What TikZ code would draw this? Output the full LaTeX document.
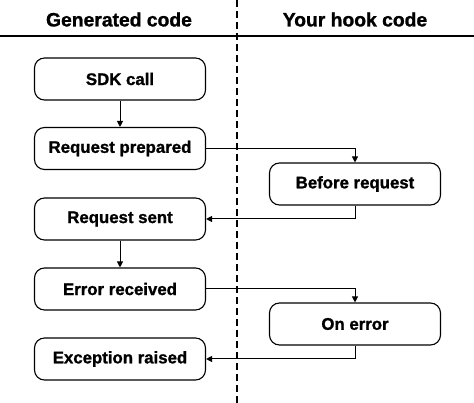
\documentclass[tikz,border=0pt]{standalone}
\usepackage{fontspec}
\setmainfont{Liberation Sans}[BoldFeatures={FakeBold=1.2}]
\usetikzlibrary{arrows.meta}
\begin{document}
\begin{tikzpicture}[x=1pt,y=-1pt,
  box/.style={draw=black, line width=1.1pt, rounded corners=10pt, minimum width=171pt, minimum height=42pt, inner sep=0pt, font=\bfseries\fontsize{16.8}{19}\selectfont},
  head/.style={font=\bfseries\fontsize{19.3}{22}\selectfont},
  conn/.style={line width=1pt, -{Triangle[length=6pt,width=6pt]}}]
\useasboundingbox (0,0) rectangle (474,403);
\fill[white] (0,0) rectangle (474,403);
\node[head] (h1) at (119,19.5) {Generated code};
\node[head] (h2) at (355,19.5) {Your hook code};
\coordinate (hl) at (0,36);
\coordinate (hr) at (474,36);
\draw[line width=2pt] (hl) -- (hr);
\coordinate (dt) at (237,0);
\coordinate (db) at (237,403);
\draw[line width=2pt, dash pattern=on 7pt off 4pt] (dt) -- (db);
\node[box] (sdk) at (120,79) {SDK call};
\node[box] (prep) at (120,148.5) {Request prepared};
\node[box] (sent) at (120,219) {Request sent};
\node[box] (err) at (120,289) {Error received};
\node[box] (exc) at (120,359) {Exception raised};
\node[box] (before) at (355,184) {Before request};
\node[box] (onerr) at (355,324) {On error};
\draw[conn] (sdk) -- (prep);
\draw[conn] (sent) -- (err);
\draw[conn] (prep.east) -| (before.north);
\draw[conn] (before.south) |- (sent.east);
\draw[conn] (err.east) -| (onerr.north);
\draw[conn] (onerr.south) |- (exc.east);
\end{tikzpicture}
\end{document}
